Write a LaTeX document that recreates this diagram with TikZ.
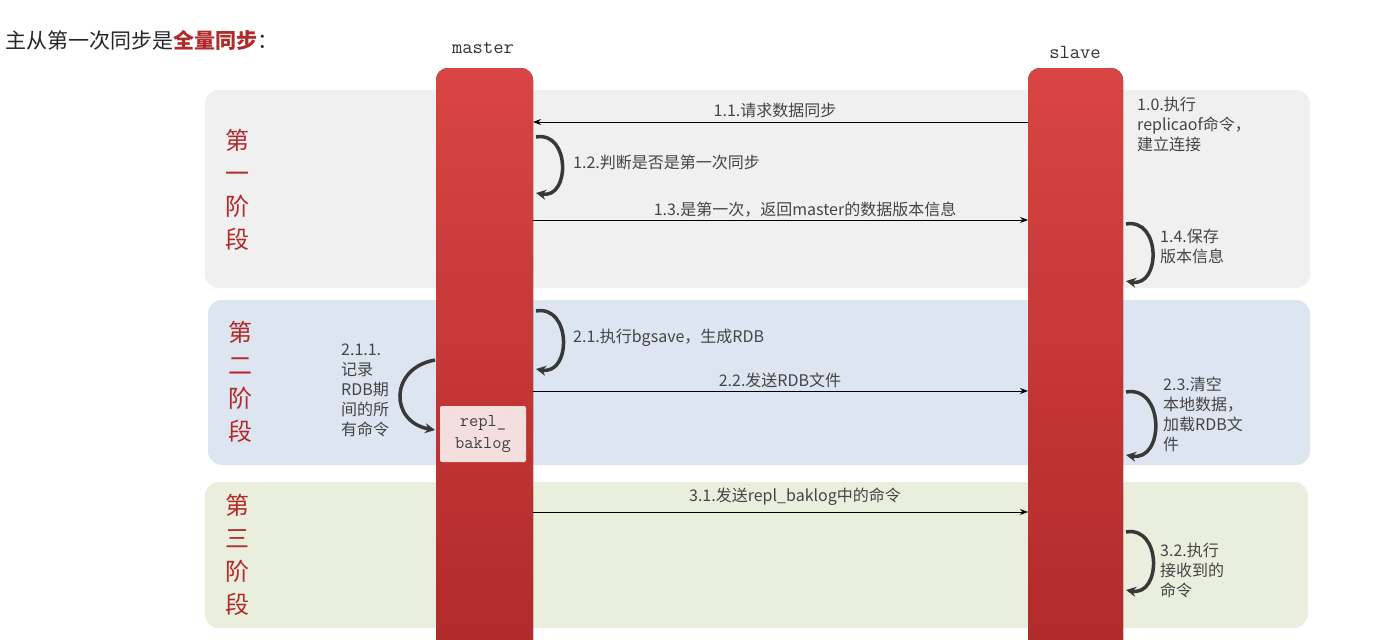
\documentclass[tikz,border=0pt]{standalone}
\usepackage{fontspec}
\setmainfont{Noto Sans CJK SC}
\usetikzlibrary{arrows.meta}
\definecolor{barA}{HTML}{D94444}
\definecolor{barB}{HTML}{B02828}
\definecolor{phase}{HTML}{B22A2A}
\definecolor{txt}{HTML}{444444}
\tikzset{
  band/.style={rounded corners=14pt,draw=none},
  bar/.style={rounded corners=12pt,top color=barA,bottom color=barB,draw=none},
  msg/.style={-{Stealth[length=8pt,width=6pt]},line width=0.9pt,black},
  selfloop/.style={-{Stealth[length=10pt,width=10pt]},line width=3.5pt,draw=black!78},
  lbl/.style={font=\fontsize{16}{20}\selectfont,text=txt,inner sep=0pt},
  plbl/.style={lbl,align=left,anchor=north west},
  ph/.style={font=\fontsize{24}{33}\selectfont,text=phase,align=center,inner sep=0pt},
}
\begin{document}
\begin{tikzpicture}[x=1pt,y=-1pt]
\useasboundingbox (0,0) rectangle (1377,640);
\clip (0,0) rectangle (1377,640);
\fill[white] (0,0) rectangle (1377,640);
% bands
\fill[band,fill={rgb,255:red,240;green,240;blue,240}] (205,90) rectangle (1310,288);
\fill[band,fill={rgb,255:red,221;green,229;blue,240}] (208,300) rectangle (1310,465);
\fill[band,fill={rgb,255:red,234;green,238;blue,221}] (205,482) rectangle (1308,628);
% title
\node[anchor=west,inner sep=0pt,font=\fontsize{21}{24}\selectfont,text=black!85] (title) at (5,40) {主从第一次同步是\textcolor{phase}{\bfseries 全量同步}：};
% phase labels
\node[ph] (p1) at (237,190) {第\\一\\阶\\段};
\node[ph] (p2) at (240,382) {第\\二\\阶\\段};
\node[ph] (p3) at (237,555) {第\\三\\阶\\段};
% bars
\fill[bar] (436,68) rectangle (533,680);
\fill[bar] (1028,68) rectangle (1123,680);
\node[font=\ttfamily\fontsize{20}{24}\selectfont,text=black!80] (mt) at (483,48) {master};
\node[font=\ttfamily\fontsize{20}{24}\selectfont,text=black!80] (st) at (1075,52) {slave};
% anchor coordinates
\coordinate (m11) at (533,122); \coordinate (s11) at (1028,122);
\coordinate (m13) at (533,220); \coordinate (s13) at (1028,220);
\coordinate (m22) at (533,391); \coordinate (s22) at (1028,391);
\coordinate (m31) at (533,512); \coordinate (s31) at (1028,512);
% messages
\draw[msg] (s11) -- (m11);
\node[lbl] (l11) at (775,110) {1.1.请求数据同步};
\draw[msg] (m13) -- (s13);
\node[lbl] (l13) at (805,210) {1.3.是第一次，返回master的数据版本信息};
\draw[msg] (m22) -- (s22);
\node[lbl] (l22) at (780,380) {2.2.发送RDB文件};
\draw[msg] (m31) -- (s31);
\node[lbl] (l31) at (795,497) {3.1.发送repl\_baklog中的命令};
% self loops
\coordinate (a12) at (536,137); \coordinate (b12) at (536,193);
\draw[selfloop] (a12) to[out=10,in=-10,looseness=1.6] (b12);
\node[lbl,anchor=west] (l12) at (573,162) {1.2.判断是否是第一次同步};
\coordinate (a14) at (1126,224); \coordinate (b14) at (1126,281);
\draw[selfloop] (a14) to[out=10,in=-10,looseness=1.6] (b14);
\node[plbl] (l14) at (1160,229) {1.4.保存\\版本信息};
\coordinate (a21) at (536,311); \coordinate (b21) at (536,369);
\draw[selfloop] (a21) to[out=10,in=-10,looseness=1.6] (b21);
\node[lbl,anchor=west] (l21) at (573,338) {2.1.执行bgsave，生成RDB};
\coordinate (a23) at (1126,392); \coordinate (b23) at (1126,455);
\draw[selfloop] (a23) to[out=10,in=-10,looseness=1.6] (b23);
\node[plbl] (l23) at (1163,377) {2.3.清空\\本地数据，\\加载RDB文\\件};
\coordinate (a32) at (1126,532); \coordinate (b32) at (1126,590);
\draw[selfloop] (a32) to[out=10,in=-10,looseness=1.6] (b32);
\node[plbl] (l32) at (1160,543) {3.2.执行\\接收到的\\命令};
\coordinate (a211) at (435,360); \coordinate (b211) at (435,430);
\draw[selfloop] (a211) to[out=190,in=170,looseness=1.7] (b211);
\node[plbl] (l211) at (341,344) {2.1.1.\\记录\\RDB期\\间的所\\有命令};
\node[plbl] (l10) at (1137,97) {1.0.执行\\replicaof命令，\\建立连接};
% repl_baklog
\node[draw=none,fill={rgb,255:red,245;green,222;blue,222},rounded corners=2pt,minimum width=86pt,minimum height=56pt,align=center,font=\ttfamily\fontsize{18}{22}\selectfont,text=black!75] (rb) at (483,434) {repl\_\\baklog};
\end{tikzpicture}
\end{document}
